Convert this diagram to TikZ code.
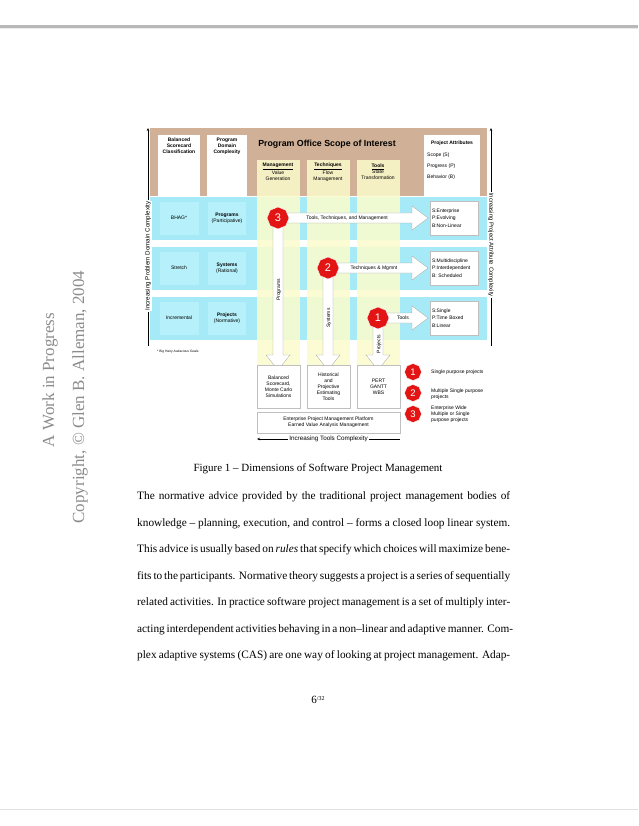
\documentclass[tikz,border=0pt]{standalone}
\usepackage{fontspec}
\setmainfont{Liberation Serif}
\newfontfamily\arial{Liberation Sans}
\usetikzlibrary{shapes.geometric,arrows.meta}
\definecolor{tan}{RGB}{208,176,150}
\definecolor{cy}{RGB}{165,234,246}
\definecolor{cyin}{RGB}{182,240,250}
\definecolor{yl}{RGB}{252,252,204}
\definecolor{oct}{RGB}{226,20,20}
\definecolor{wm}{RGB}{140,140,140}
\tikzset{
 sm/.style={font=\arial\fontsize{5}{6}\selectfont,align=center,inner sep=0pt},
 hd/.style={font=\arial\bfseries\fontsize{5}{5.8}\selectfont,align=center,inner sep=0pt},
 octa/.style={regular polygon,regular polygon sides=8,shape border rotate=22.5,fill=oct,draw=white,line width=0.4pt,minimum size=22pt,inner sep=0pt,text=white,font=\arial\fontsize{11}{11}\selectfont},
 fat/.style={fill=white,draw=black!35,line width=0.3pt},
 bx/.style={fill=white,draw=black!25,line width=0.3pt},
 bodyline/.style={anchor=west,inner sep=0pt,font=\fontsize{11.3}{13}\selectfont}
}
\newcommand{\jl}[1]{\hbox to 373pt{#1}}
\begin{document}
\begin{tikzpicture}[x=1pt,y=-1pt]
\useasboundingbox (0,0) rectangle (638,826);
\fill[black!28] (0,25) rectangle (638,28);
\fill[black!8] (0,28) rectangle (638,29);
\fill[black!12] (0,809) rectangle (638,810);
% background
\fill[tan] (150,128) rectangle (487,196);
\fill[white] (158,135) rectangle (200,345);
\fill[white] (207,135) rectangle (247,345);
\fill[white] (424,135) rectangle (480,345);
\foreach \y in {197,247,297}{
 \fill[cy] (150,\y) rectangle (487,\y+43);
 \fill[cyin] (160,\y+5) rectangle (199,\y+38);
 \fill[cyin] (208,\y+5) rectangle (246,\y+38);}
\foreach \x in {257,307,357}{\fill[yl,opacity=0.85] (\x,160) rectangle (\x+43,365);}
% header texts
\node[hd] (bsc) at (179,146) {Balanced\\Scorecard\\Classification};
\node[hd] (pdc) at (227,146) {Program\\Domain\\Complexity};
\node[font=\arial\bfseries\fontsize{8.8}{9}\selectfont,inner sep=0pt] (title) at (327,144) {Program Office Scope of Interest};
\node[sm] (mg) at (278,172) {\textbf{\underline{Management}}\\Value\\Generation};
\node[sm] (tq) at (328,172) {\textbf{\underline{Techniques}}\\Flow\\Management};
\node[sm] (tl) at (378,172) {\textbf{\underline{Tools}}\\State\\Transformation};
\node[hd] (pa) at (452,143) {Project Attributes};
\node[sm,anchor=west] (s1) at (427,155) {Scope (S)};
\node[sm,anchor=west] (p1) at (427,166) {Progress (P)};
\node[sm,anchor=west] (b1) at (427,177) {Behavior (B)};
% rows
\node[sm] (bhag) at (179,218) {BHAG*};
\node[sm] (prg) at (227,218) {\textbf{Programs}\\(Participative)};
\node[sm] (str) at (179,268) {Stretch};
\node[sm] (sys) at (227,268) {\textbf{Systems}\\(Rational)};
\node[sm] (inc) at (179,318) {Incremental};
\node[sm] (prj) at (227,318) {\textbf{Projects}\\(Normative)};
\node[font=\arial\fontsize{3.3}{4}\selectfont,anchor=west,inner sep=0pt] (bh) at (157,352) {* Big Hairy Audacious Goals};
% attribute boxes
\node[bx,sm,align=left,minimum width=48pt,minimum height=34pt,text width=44pt] (a1) at (454,218) {S:Enterprise\\[1.5pt]P:Evolving\\[1.5pt]B:Non-Linear};
\node[bx,sm,align=left,minimum width=48pt,minimum height=34pt,text width=44pt] (a2) at (454,268) {S:Multidiscipline\\[1.5pt]P:Interdependent\\[1.5pt]B: Scheduled};
\node[bx,sm,align=left,minimum width=48pt,minimum height=34pt,text width=44pt] (a3) at (454,318) {S:Single\\[1.5pt]P:Time Boxed\\[1.5pt]B:Linear};
% vertical arrows
\foreach \x/\y in {278/225,328/275,378/325}{
 \draw[fat] (\x-5,\y) -- (\x+5,\y) -- (\x+5,355) -- (\x+12,355) -- (\x,370) -- (\x-12,355) -- (\x-5,355) -- cycle;}
% horizontal arrows
\foreach \x/\y in {285/218,335/268,385/318}{
 \draw[fat] (\x,\y-5) -- (412,\y-5) -- (412,\y-12) -- (428,\y) -- (412,\y+12) -- (412,\y+5) -- (\x,\y+5) -- cycle;}
\node[sm] (l3) at (347,218) {Tools, Techniques, and Management};
\node[sm] (l2) at (374,268) {Techniques \& Mgmnt};
\node[sm] (l1) at (403,318) {Tools};
\node[sm,rotate=90] (vp) at (279,290) {Programs};
\node[sm,rotate=90] (vs) at (329,318) {Systems};
\node[sm,rotate=90] (vj) at (379,344) {Projects};
\node[octa] (o3) at (278,218) {3};
\node[octa] (o2) at (328,268) {2};
\node[octa] (o1) at (378,318) {1};
% bottom boxes
\node[bx,sm,minimum width=43pt,minimum height=43pt] (bb1) at (278.5,386.5) {Balanced\\Scorecard,\\Monte Carlo\\Simulations};
\node[bx,sm,minimum width=43pt,minimum height=43pt] (bb2) at (328.5,386.5) {Historical\\and\\Projective\\Estimating\\Tools};
\node[bx,sm,minimum width=43pt,minimum height=43pt] (bb3) at (378.5,386.5) {PERT\\GANTT\\WBS};
\node[bx,sm,minimum width=143pt,minimum height=21pt] (ep) at (328.5,422.5) {Enterprise Project Management Platform\\Earned Value Analysis Management};
\node[font=\arial\fontsize{6.3}{7}\selectfont,inner sep=1pt,fill=white] (itc) at (328.5,439) {Increasing Tools Complexity};
\coordinate (itcL) at (257,439); \coordinate (itcR) at (400,439);
\draw[-{Stealth[length=3pt,width=2.5pt]},line width=0.5pt] (itc.west) -- (itcL);
\draw[line width=0.5pt] (itc.east) -- (itcR);
% legend
\node[octa,minimum size=17pt,font=\arial\fontsize{9.5}{9.5}\selectfont] (g1) at (413,372) {1};
\node[octa,minimum size=17pt,font=\arial\fontsize{9.5}{9.5}\selectfont] (g2) at (413,393) {2};
\node[octa,minimum size=17pt,font=\arial\fontsize{9.5}{9.5}\selectfont] (g3) at (413,414) {3};
\node[sm,anchor=west,align=left] (t1) at (431,372) {Single purpose projects};
\node[sm,anchor=west,align=left] (t2) at (431,394) {Multiple Single purpose\\projects};
\node[sm,anchor=west,align=left] (t3) at (431,414) {Enterprise Wide\\Multiple or Single\\purpose projects};
% side axes
\node[font=\arial\fontsize{6.2}{7}\selectfont,rotate=90,inner sep=1pt,fill=white] (lax) at (148,256) {Increasing Problem Domain Complexity};
\coordinate (laxT) at (148,128); \coordinate (laxB) at (148,346);
\draw[-{Stealth[length=3pt,width=2.5pt]},line width=0.5pt] (lax.east) -- (laxT);
\draw[line width=0.5pt] (lax.west) -- (laxB);
\node[font=\arial\fontsize{6}{7}\selectfont,rotate=-90,inner sep=1pt,fill=white] (rax) at (491,245) {Increasing Project Attribute Complexity};
\coordinate (raxT) at (491,128); \coordinate (raxB) at (491,346);
\draw[-{Stealth[length=3pt,width=2.5pt]},line width=0.5pt] (rax.west) -- (raxT);
\draw[line width=0.5pt] (rax.east) -- (raxB);
% watermark
\node[rotate=90,text=wm,font=\fontsize{17}{18}\selectfont,inner sep=0pt] (wm1) at (50,380) {A Work in Progress};
\node[rotate=90,text=wm,font=\fontsize{17}{18}\selectfont,inner sep=0pt] (wm2) at (80,397) {Copyright, \textcopyright\ Glen B. Alleman, 2004};
% caption
\node[font=\fontsize{11}{13}\selectfont,inner sep=0pt] (cap) at (318,469) {Figure 1 – Dimensions of Software Project Management};
% body
\node[bodyline] (bl1) at (137,497) {\jl{The normative advice provided by the traditional project management bodies of}};
\node[bodyline] (bl2) at (137,523.5) {\jl{knowledge – planning, execution, and control – forms a closed loop linear system.}};
\node[bodyline] (bl3) at (137,550) {\jl{This advice is usually based on \textit{rules} that specify which choices will maximize bene-}};
\node[bodyline] (bl4) at (137,576.5) {\jl{fits to the participants. Normative theory suggests a project is a series of sequentially}};
\node[bodyline] (bl5) at (137,603) {\jl{related activities. In practice software project management is a set of multiply inter-}};
\node[bodyline] (bl6) at (137,629.5) {\jl{acting interdependent activities behaving in a non–linear and adaptive manner. Com-}};
\node[bodyline] (bl7) at (137,656) {\jl{plex adaptive systems (CAS) are one way of looking at project management. Adap-}};
\node[font=\fontsize{11}{13}\selectfont,inner sep=0pt] (pg) at (318,700) {6\raisebox{3pt}{\fontsize{6}{7}\selectfont /32}};
\end{tikzpicture}
\end{document}
